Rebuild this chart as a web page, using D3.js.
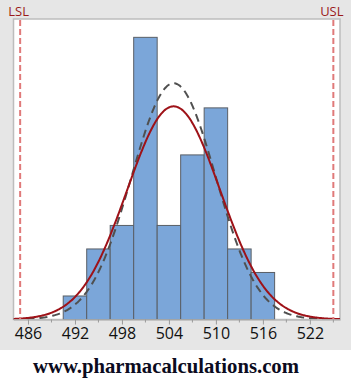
<!DOCTYPE html>
<html>
<head>
<meta charset="utf-8">
<script src="https://cdn.jsdelivr.net/npm/d3@7"></script>
<style>
  body { margin: 0; background: #fff; }
  svg { display: block; }
</style>
</head>
<body>
<div id="chart"></div>
<script>
/* DATA */
const binStarts = [490.5, 493.5, 496.5, 499.5, 502.5, 505.5, 508.5, 511.5, 514.5];
const binWidth = 3;
const counts = [1, 3, 4, 12, 4, 7, 9, 3, 2];
const xTicks = [486, 492, 498, 504, 510, 516, 522];
const minorTicks = [489, 495, 501, 507, 513, 519, 525];
const specLabels = ["LSL", "USL"];
const specValues = [485, 525];
const fitMean = 504.6;
const sdOverall = 5.94;
const sdWithin = 5.36;

const width = 351, height = 386;
const plot = { left: 13.5, right: 340, top: 19, bottom: 319.5 };

const svg = d3.select("#chart").append("svg")
  .attr("width", width)
  .attr("height", height);

// gray background panel
svg.append("rect")
  .attr("x", 0).attr("y", 0)
  .attr("width", width).attr("height", 350)
  .attr("fill", "#e6e6e6");

const xScale = d3.scaleLinear()
  .domain([484.15, 525.85])
  .range([plot.left, plot.right]);

const yScale = d3.scaleLinear()
  .domain([0, 12.78])
  .range([plot.bottom, plot.top]);

// plot area
svg.append("rect")
  .attr("x", plot.left).attr("y", plot.top)
  .attr("width", plot.right - plot.left)
  .attr("height", plot.bottom - plot.top)
  .attr("fill", "#fff")
  .attr("stroke", "#bdbdbd")
  .attr("stroke-width", 1.5);

svg.append("clipPath").attr("id", "clip")
  .append("rect")
  .attr("x", plot.left).attr("y", plot.top)
  .attr("width", plot.right - plot.left)
  .attr("height", plot.bottom - plot.top);

// bars
const bars = binStarts.map((s, i) => ({ x0: s, x1: s + binWidth, n: counts[i] }));
svg.append("g").selectAll("rect")
  .data(bars)
  .join("rect")
  .attr("x", d => xScale(d.x0))
  .attr("y", d => yScale(d.n))
  .attr("width", d => xScale(d.x1) - xScale(d.x0))
  .attr("height", d => yScale(0) - yScale(d.n))
  .attr("fill", "#7ba6d9")
  .attr("stroke", "#5a5f66")
  .attr("stroke-width", 1);

// fitted normal curves (scaled to counts per bin)
const total = d3.sum(counts);
function normalCurve(sd) {
  return d3.range(484.15, 525.9, 0.1).map(x => ({
    x: x,
    y: total * binWidth / (sd * Math.sqrt(2 * Math.PI)) * Math.exp(-((x - fitMean) ** 2) / (2 * sd * sd))
  }));
}
const line = d3.line().x(d => xScale(d.x)).y(d => yScale(d.y)).curve(d3.curveBasis);

const curves = svg.append("g").attr("clip-path", "url(#clip)");
curves.append("path")
  .attr("d", line(normalCurve(sdWithin)))
  .attr("fill", "none")
  .attr("stroke", "#505050")
  .attr("stroke-width", 2)
  .attr("stroke-dasharray", "8,5");
curves.append("path")
  .attr("d", line(normalCurve(sdOverall)))
  .attr("fill", "none")
  .attr("stroke", "#9e1218")
  .attr("stroke-width", 2);

// spec limits
svg.append("g").selectAll("line")
  .data(specValues)
  .join("line")
  .attr("x1", d => xScale(d)).attr("x2", d => xScale(d))
  .attr("y1", plot.top + 1).attr("y2", plot.bottom)
  .attr("stroke", "#e07a7a")
  .attr("stroke-width", 2)
  .attr("stroke-dasharray", "6,3");

svg.append("g").selectAll("text")
  .data(specValues)
  .join("text")
  .attr("x", d => xScale(d) - 1.5)
  .attr("y", 16)
  .attr("text-anchor", "middle")
  .attr("font-family", "'Open Sans', sans-serif")
  .attr("font-size", 13)
  .attr("fill", "#9b1a1a")
  .text((d, i) => specLabels[i]);

// x axis
const xAxis = d3.axisBottom(xScale)
  .tickValues(xTicks)
  .tickSize(5)
  .tickSizeOuter(0)
  .tickFormat(d3.format("d"));
const axisG = svg.append("g")
  .attr("transform", `translate(0, ${plot.bottom})`)
  .call(xAxis);
axisG.select(".domain").attr("stroke", "#bdbdbd").attr("stroke-width", 1.5);
axisG.selectAll(".tick line").attr("stroke", "#9a9a9a");
axisG.selectAll(".tick text")
  .attr("dy", 0)
  .attr("y", 19)
  .attr("font-family", "'Open Sans', sans-serif")
  .attr("font-size", 16)
  .attr("fill", "#111");

svg.append("g").selectAll("line")
  .data(minorTicks)
  .join("line")
  .attr("x1", d => xScale(d)).attr("x2", d => xScale(d))
  .attr("y1", plot.bottom).attr("y2", plot.bottom + 3)
  .attr("stroke", "#9a9a9a");

// watermark
svg.append("text")
  .attr("x", 166)
  .attr("y", 373)
  .attr("text-anchor", "middle")
  .attr("font-family", "'Liberation Serif', serif")
  .attr("font-weight", "bold")
  .attr("font-size", 21)
  .attr("textLength", 266)
  .attr("lengthAdjust", "spacingAndGlyphs")
  .attr("fill", "#0b0b20")
  .text("www.pharmacalculations.com");
</script>
</body>
</html>
